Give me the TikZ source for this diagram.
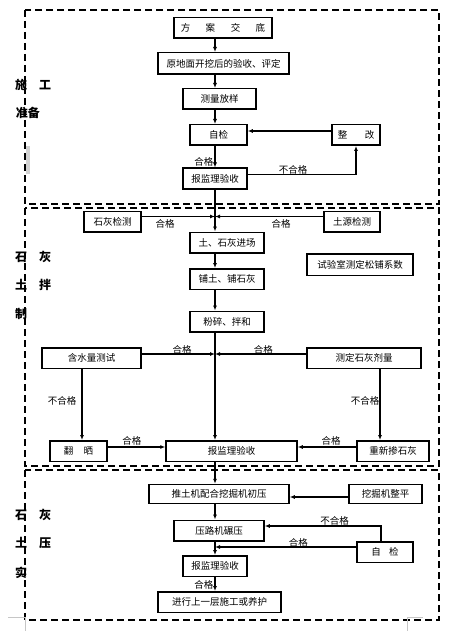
\documentclass[tikz,border=0pt]{standalone}
\usepackage{fontspec}
\newfontfamily\cjk{Noto Sans CJK SC}
\usetikzlibrary{arrows.meta}
\tikzset{
  box/.style={draw, line width=1.5pt, inner sep=0pt, minimum height=20.5pt, font=\cjk\fontsize{9.5}{11}\selectfont},
  lab/.style={inner sep=1pt, font=\cjk\fontsize{9.5}{11}\selectfont},
  side/.style={inner sep=0pt, font=\cjk\bfseries\fontsize{12}{14}\selectfont},
  arr/.style={line width=1.2pt, -{Latex[length=5pt,width=4pt]}},
  zone/.style={line width=1.6pt, dash pattern=on 7pt off 4pt},
}
\begin{document}
\begin{tikzpicture}[x=1pt, y=-1pt]
	\useasboundingbox (0,0) rectangle (464,631);
	% zones and side titles
	\draw[zone] (25,10) rectangle (439,204);
	\draw[zone] (25,208) rectangle (439,466);
	\draw[zone] (25,470) rectangle (439,620);
	\fill[gray!35] (26,146) rectangle (30,174);
	\draw[gray!45, line width=0.6pt] (8,617) -- (25,617) -- (25,631);
	\draw[gray!45, line width=0.6pt] (423,617) -- (407,617) -- (407,631);
	\node[side] (zbA) at (33,85) {施\hspace{12pt}工};
	\node[side] (zbB) at (28,113) {准备};
	\node[side] (bhA) at (33,257) {石\hspace{12pt}灰};
	\node[side] (bhB) at (33,285) {土\hspace{12pt}拌};
	\node[side] (bhC) at (21,314) {制};
	\node[side] (ysA) at (33,515) {石\hspace{12pt}灰};
	\node[side] (ysB) at (33,543) {土\hspace{12pt}压};
	\node[side] (ysC) at (21,573) {实};
	\coordinate (axis) at (215,0);
	% preparation
	\node[box, minimum width=98pt] (fajd) at (223,28) {方\hspace{15.5pt}案\hspace{15.5pt}交\hspace{15.5pt}底};
	\node[box, minimum width=131pt, minimum height=21.5pt] (ydm) at (223.5,63.5) {原地面开挖后的验收、评定};
	\node[box, minimum width=73pt] (clfy) at (219.5,99) {测量放样};
	\node[box, minimum width=57pt] (zjA) at (218.5,135) {自检};
	\node[box, minimum width=48pt] (zg) at (356,135) {整\hspace{17.5pt}改};
	\node[box, minimum width=64pt] (bjA) at (215,178.5) {报监理验收};
	% mixing
	\node[box, minimum width=57pt] (shjc) at (112.5,221.5) {石灰检测};
	\node[box, minimum width=56pt] (tyjc) at (352,221.5) {土源检测};
	\node[box, minimum width=74pt] (tsh) at (227,242.5) {土、石灰进场};
	\node[box, minimum width=74pt] (ptu) at (227,279) {铺土、铺石灰};
	\node[box, minimum width=74pt] (fs) at (227,321.5) {粉碎、拌和};
	\node[box, minimum width=106pt, minimum height=21.5pt] (sys) at (360,264.5) {试验室测定松铺系数};
	\node[box, minimum width=99pt] (hsl) at (91.5,358) {含水量测试};
	\node[box, minimum width=114pt] (sdsh) at (364,358) {测定石灰剂量};
	\node[box, minimum width=57pt] (fsh) at (78.5,451) {翻\hspace{10.5pt}晒};
	\node[box, minimum width=131pt] (bjB) at (231.5,451) {报监理验收};
	\node[box, minimum width=72pt] (cxc) at (393,451) {重新掺石灰};
	% compaction
	\node[box, minimum width=140pt, minimum height=19pt] (ttj) at (219,494) {推土机配合挖掘机初压};
	\node[box, minimum width=73pt, minimum height=19pt] (wjj) at (385.5,494) {挖掘机整平};
	\node[box, minimum width=90pt] (yl) at (219,530.5) {压路机碾压};
	\node[box, minimum width=56pt] (zjB) at (385,552) {自\hspace{8.5pt}检};
	\node[box, minimum width=64pt] (bjC) at (215,566) {报监理验收};
	\node[box, minimum width=123pt] (jx) at (219.5,602) {进行上一层施工或养护};
	% connectors
	\draw[arr] (fajd.south -| axis) -- (ydm.north -| axis);
	\draw[arr] (ydm.south -| axis) -- (clfy.north -| axis);
	\draw[arr] (clfy.south -| axis) -- (zjA.north -| axis);
	\draw[arr] (zjA.south -| axis) -- node[lab, pos=0.75, left=0pt] {合格} (bjA.north -| axis);
	\draw[arr] ([yshift=4pt]bjA.east) -| node[lab, pos=0.21, above=-1pt] {不合格} (zg.south);
	\draw[arr] ([yshift=4pt]zg.west) -- ([yshift=4pt]zjA.east);
	\draw[arr] (bjA.south -| axis) -- (tsh.north -| axis);
	\draw[arr] ([yshift=5pt]shjc.east) -- node[lab, pos=0.32, below=1pt] {合格} ([yshift=5pt]shjc.east -| axis);
	\draw[arr] ([yshift=5pt]tyjc.west) -- node[lab, pos=0.39, below=1pt] {合格} ([yshift=5pt]tyjc.west -| axis);
	\draw[arr] (tsh.south -| axis) -- (ptu.north -| axis);
	\draw[arr] (ptu.south -| axis) -- (fs.north -| axis);
	\draw[arr] (fs.south -| axis) -- (bjB.north -| axis);
	\draw[arr] ([yshift=4pt]hsl.east) -- node[lab, pos=0.55, above=-2pt] {合格} ([yshift=4pt]hsl.east -| axis);
	\draw[arr] ([yshift=4pt]sdsh.west) -- node[lab, pos=0.47, above=-2pt] {合格} ([yshift=4pt]sdsh.west -| axis);
	\draw[arr] ([xshift=-9.5pt]hsl.south) -- node[lab, pos=0.45, left=4pt] {不合格} ([xshift=-9.5pt]hsl.south |- fsh.north);
	\draw[arr] ([xshift=16pt]sdsh.south) -- node[lab, pos=0.45, left=-1pt] {不合格} ([xshift=16pt]sdsh.south |- cxc.north);
	\draw[arr] ([yshift=4pt]fsh.east) -- node[lab, pos=0.42, above=0pt] {合格} ([yshift=4pt]fsh.east -| bjB.west);
	\draw[arr] ([yshift=4pt]cxc.west) -- node[lab, pos=0.43, above=0pt] {合格} ([yshift=4pt]cxc.west -| bjB.east);
	\draw[arr] (bjB.south -| axis) -- (ttj.north -| axis);
	\draw[arr] ([yshift=-3pt]wjj.west) -- ([yshift=-3pt]wjj.west -| ttj.east);
	\draw[arr] (ttj.south -| axis) -- (yl.north -| axis);
	\draw[arr] ([xshift=-4pt]zjB.north) |- node[lab, pos=0.7, above=-1pt] {不合格} ([yshift=4.5pt]yl.east);
	\draw[arr] ([yshift=5pt]zjB.west) -- node[lab, pos=0.41, above=-2pt] {合格} ([yshift=5pt]zjB.west -| axis);
	\draw[arr] (yl.south -| axis) -- (bjC.north -| axis);
	\draw[arr] (bjC.south -| axis) -- node[lab, pos=0.55, left=0pt] {合格} (jx.north -| axis);
\end{tikzpicture}
\end{document}
